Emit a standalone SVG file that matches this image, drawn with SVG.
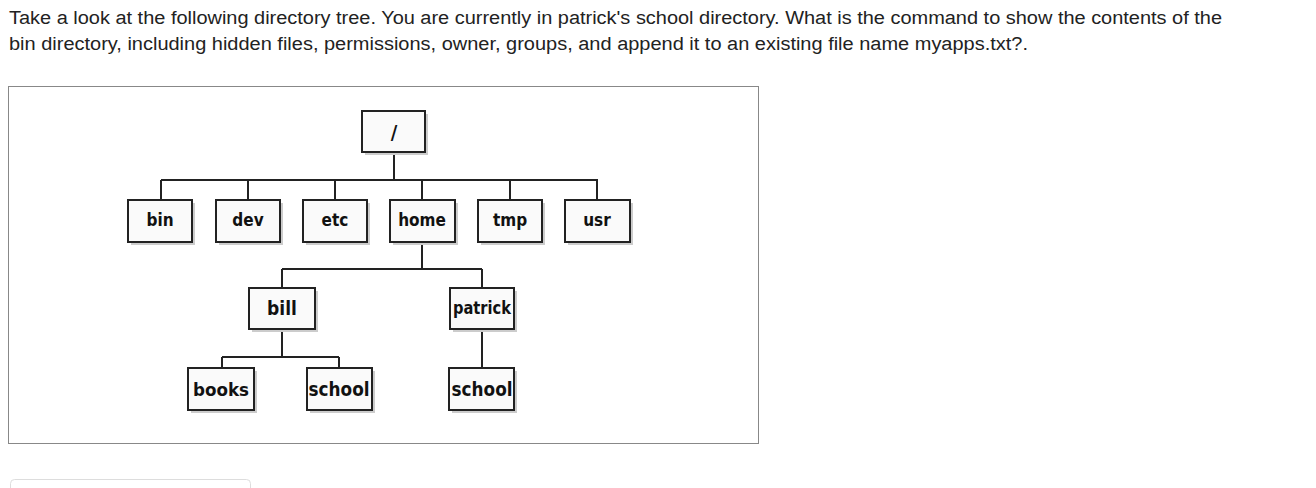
<svg xmlns="http://www.w3.org/2000/svg" width="1316" height="488" viewBox="0 0 1316 488">
<style>
.q{font-family:"Liberation Sans",Arial,sans-serif;font-size:18px;fill:#222}
.b{fill:#fafafa;stroke:#222;stroke-width:2}
.s{fill:#ccc}
.t{font-family:"DejaVu Sans Condensed","DejaVu Sans",sans-serif;font-stretch:condensed;font-weight:bold;font-size:17px;fill:#111;text-anchor:middle}
.c{stroke:#222;stroke-width:2;fill:none}
</style>
<rect width="1316" height="488" fill="#fff"/>
<text class="q" x="9" y="24" textLength="1213" lengthAdjust="spacingAndGlyphs">Take a look at the following directory tree. You are currently in patrick's school directory. What is the command to show the contents of the</text>
<text class="q" x="9" y="50" textLength="1019" lengthAdjust="spacingAndGlyphs">bin directory, including hidden files, permissions, owner, groups, and append it to an existing file name myapps.txt?.</text>
<rect x="8.5" y="86.5" width="750" height="357" fill="#fff" stroke="#888" stroke-width="1"/>
<rect x="10.5" y="479.5" width="240" height="20" rx="4" fill="#fff" stroke="#ddd"/>
<g id="connectors">
<path class="c" d="M394 152V180M161 180H598M161 180V200M248 180V200M335 180V200M422 180V200M510 180V200M597 180V200"/>
<path class="c" d="M422 242V269M282 269H482M282 269V288M482 269V288"/>
<path class="c" d="M282 329V357M222 357H339M222 357V368M339 357V368M482 329V368"/>
</g>
<g id="root"><rect class="s" x="365" y="114" width="63" height="41"/><rect class="b" x="362" y="111" width="63" height="41"/><text class="t" x="394" y="139" style="font-size:20px">/</text></g>
<g id="bin"><rect class="s" x="131" y="203" width="64" height="42"/><rect class="b" x="128" y="200" width="64" height="42"/><text class="t" x="160" y="226">bin</text></g>
<g id="dev"><rect class="s" x="219" y="203" width="64" height="42"/><rect class="b" x="216" y="200" width="64" height="42"/><text class="t" x="248" y="226">dev</text></g>
<g id="etc"><rect class="s" x="306" y="203" width="64" height="42"/><rect class="b" x="303" y="200" width="64" height="42"/><text class="t" x="335" y="226">etc</text></g>
<g id="home"><rect class="s" x="393" y="203" width="65" height="42"/><rect class="b" x="390" y="200" width="65" height="42"/><text class="t" x="422" y="226">home</text></g>
<g id="tmp"><rect class="s" x="481" y="203" width="64" height="42"/><rect class="b" x="478" y="200" width="64" height="42"/><text class="t" x="510" y="226">tmp</text></g>
<g id="usr"><rect class="s" x="568" y="203" width="65" height="42"/><rect class="b" x="565" y="200" width="65" height="42"/><text class="t" x="597" y="226">usr</text></g>
<g id="bill"><rect class="s" x="252" y="291" width="66" height="41"/><rect class="b" x="249" y="288" width="66" height="41"/><text class="t" x="282" y="315" style="font-size:19px">bill</text></g>
<g id="patrick"><rect class="s" x="453" y="291" width="64" height="41"/><rect class="b" x="450" y="288" width="64" height="41"/><text class="t" x="482" y="314" textLength="58" lengthAdjust="spacingAndGlyphs">patrick</text></g>
<g id="books"><rect class="s" x="191" y="371" width="66" height="42"/><rect class="b" x="188" y="368" width="66" height="42"/><text class="t" x="221" y="396" textLength="56" lengthAdjust="spacingAndGlyphs">books</text></g>
<g id="school1"><rect class="s" x="310" y="371" width="65" height="42"/><rect class="b" x="307" y="368" width="65" height="42"/><text class="t" x="339" y="396" style="font-size:19px" textLength="61" lengthAdjust="spacingAndGlyphs">school</text></g>
<g id="school2"><rect class="s" x="452" y="371" width="65" height="42"/><rect class="b" x="449" y="368" width="65" height="42"/><text class="t" x="482" y="396" style="font-size:19px" textLength="61" lengthAdjust="spacingAndGlyphs">school</text></g>
</svg>
